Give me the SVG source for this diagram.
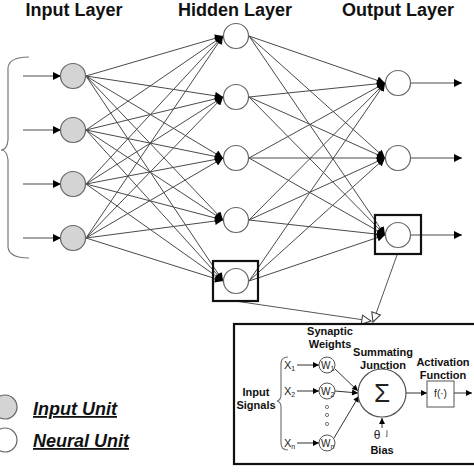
<svg xmlns="http://www.w3.org/2000/svg" width="474" height="474" viewBox="0 0 474 474">
<defs>
<marker id="ah" viewBox="0 0 10 10" refX="10" refY="5" markerWidth="9" markerHeight="8" markerUnits="userSpaceOnUse" orient="auto"><path d="M0,0 L10,5 L0,10 Z" fill="#000"/></marker>
<marker id="hh" viewBox="0 0 12 12" refX="11" refY="6" markerWidth="11" markerHeight="11" markerUnits="userSpaceOnUse" orient="auto"><path d="M1,1 L11,6 L1,11 Z" fill="#fff" stroke="#444" stroke-width="1.2"/></marker>
<marker id="sa" viewBox="0 0 10 10" refX="10" refY="5" markerWidth="7" markerHeight="6" markerUnits="userSpaceOnUse" orient="auto"><path d="M0,0 L10,5 L0,10 Z" fill="#000"/></marker>
</defs>
<style>
.e{stroke:#4a4a4a;stroke-width:1;fill:none;marker-end:url(#ah)}
.in{fill:#d4d4d4;stroke:#666;stroke-width:1.2}
.nu{fill:#fff;stroke:#666;stroke-width:1.2}
.t{font-family:"Liberation Sans",Arial,sans-serif;font-weight:bold;fill:#111}
.s{font-family:"Liberation Sans",Arial,sans-serif;fill:#222}
.box{fill:none;stroke:#111;stroke-width:2.2}
.ln{stroke:#333;stroke-width:1;fill:none}
.br{stroke:#777;stroke-width:1.2;fill:none}
</style>
<g id="titles">
<text class="t" x="74" y="16" font-size="18" text-anchor="middle">Input Layer</text>
<text class="t" x="235" y="16" font-size="18" text-anchor="middle">Hidden Layer</text>
<text class="t" x="398" y="16" font-size="18" text-anchor="middle">Output Layer</text>
</g>
<g id="braces">
<path class="br" d="M29,57 Q9,57 8,68 L8,140 Q7,150 1,150 Q7,150 8,160 L8,247 Q9,258 29,258"/>
</g>
<g id="connectors">
<line class="e" x1="23" y1="76" x2="61" y2="76"/>
<line class="e" x1="23" y1="130" x2="61" y2="130"/>
<line class="e" x1="23" y1="184" x2="61" y2="184"/>
<line class="e" x1="23" y1="238" x2="61" y2="238"/>
<g>
<line class="e" x1="86" y1="76" x2="223" y2="36"/><line class="e" x1="86" y1="76" x2="223" y2="97"/><line class="e" x1="86" y1="76" x2="223" y2="158"/><line class="e" x1="86" y1="76" x2="223" y2="220"/><line class="e" x1="86" y1="76" x2="223" y2="281"/>
<line class="e" x1="86" y1="130" x2="223" y2="36"/><line class="e" x1="86" y1="130" x2="223" y2="97"/><line class="e" x1="86" y1="130" x2="223" y2="158"/><line class="e" x1="86" y1="130" x2="223" y2="220"/><line class="e" x1="86" y1="130" x2="223" y2="281"/>
<line class="e" x1="86" y1="184" x2="223" y2="36"/><line class="e" x1="86" y1="184" x2="223" y2="97"/><line class="e" x1="86" y1="184" x2="223" y2="158"/><line class="e" x1="86" y1="184" x2="223" y2="220"/><line class="e" x1="86" y1="184" x2="223" y2="281"/>
<line class="e" x1="86" y1="238" x2="223" y2="36"/><line class="e" x1="86" y1="238" x2="223" y2="97"/><line class="e" x1="86" y1="238" x2="223" y2="158"/><line class="e" x1="86" y1="238" x2="223" y2="220"/><line class="e" x1="86" y1="238" x2="223" y2="281"/>
</g>
<g>
<line class="e" x1="249" y1="36" x2="385" y2="83"/><line class="e" x1="249" y1="36" x2="385" y2="158"/><line class="e" x1="249" y1="36" x2="385" y2="235"/>
<line class="e" x1="249" y1="97" x2="385" y2="83"/><line class="e" x1="249" y1="97" x2="385" y2="158"/><line class="e" x1="249" y1="97" x2="385" y2="235"/>
<line class="e" x1="249" y1="158" x2="385" y2="83"/><line class="e" x1="249" y1="158" x2="385" y2="158"/><line class="e" x1="249" y1="158" x2="385" y2="235"/>
<line class="e" x1="249" y1="220" x2="385" y2="83"/><line class="e" x1="249" y1="220" x2="385" y2="158"/><line class="e" x1="249" y1="220" x2="385" y2="235"/>
<line class="e" x1="249" y1="281" x2="385" y2="83"/><line class="e" x1="249" y1="281" x2="385" y2="158"/><line class="e" x1="249" y1="281" x2="385" y2="235"/>
</g>
<line class="e" x1="411" y1="83" x2="462" y2="83"/>
<line class="e" x1="411" y1="158" x2="462" y2="158"/>
<line class="e" x1="411" y1="235" x2="462" y2="235"/>
<line x1="235" y1="301" x2="371" y2="321" stroke="#555" stroke-width="1" marker-end="url(#hh)"/>
<line x1="397" y1="255" x2="373" y2="322" stroke="#555" stroke-width="1" marker-end="url(#hh)"/>
</g>
<g id="input-nodes">
<circle class="in" cx="73" cy="76" r="12.5"/>
<circle class="in" cx="73" cy="130" r="12.5"/>
<circle class="in" cx="73" cy="184" r="12.5"/>
<circle class="in" cx="73" cy="238" r="12.5"/>
</g>
<g id="hidden-nodes">
<circle class="nu" cx="236" cy="36" r="12.5"/>
<circle class="nu" cx="236" cy="97" r="12.5"/>
<circle class="nu" cx="236" cy="158" r="12.5"/>
<circle class="nu" cx="236" cy="220" r="12.5"/>
<circle class="nu" cx="236" cy="281" r="12.5"/>
<rect class="box" x="213" y="261" width="45" height="40"/>
</g>
<g id="output-nodes">
<circle class="nu" cx="398" cy="83" r="12.5"/>
<circle class="nu" cx="398" cy="158" r="12.5"/>
<circle class="nu" cx="398" cy="235" r="12.5"/>
<rect class="box" x="375" y="215" width="46" height="39"/>
</g>
<g id="legend">
<circle class="in" cx="5" cy="407" r="12"/>
<circle class="nu" cx="5" cy="440" r="12"/>
<text class="t" x="33" y="415" font-size="18" font-style="italic" text-decoration="underline">Input Unit</text>
<text class="t" x="33" y="447" font-size="18" font-style="italic" text-decoration="underline">Neural Unit</text>
</g>
<g id="neuron-detail">
<rect x="234" y="324" width="250" height="140" fill="#fff" stroke="#111" stroke-width="2.2"/>
<text class="t" x="330" y="335" font-size="11" text-anchor="middle">Synaptic</text>
<text class="t" x="330" y="348" font-size="11" text-anchor="middle">Weights</text>
<text class="t" x="383" y="356" font-size="11" text-anchor="middle">Summating</text>
<text class="t" x="383" y="369" font-size="11" text-anchor="middle">Junction</text>
<text class="t" x="443" y="366" font-size="11" text-anchor="middle">Activation</text>
<text class="t" x="443" y="379" font-size="11" text-anchor="middle">Function</text>
<text class="t" x="256" y="396" font-size="11" text-anchor="middle">Input</text>
<text class="t" x="256" y="409" font-size="11" text-anchor="middle">Signals</text>
<path class="br" d="M288,357 Q281,357 281,364 L281,395 Q281,400 277,401 Q281,402 281,407 L281,443 Q281,450 288,450" stroke="#444"/>
<text class="s" x="284" y="369" font-size="11">X<tspan font-size="7" dy="2">1</tspan></text>
<text class="s" x="284" y="395" font-size="11">X<tspan font-size="7" dy="2">2</tspan></text>
<text class="s" x="284" y="447" font-size="11">X<tspan font-size="7" dy="2">n</tspan></text>
<line class="ln" x1="297" y1="365" x2="319" y2="365" marker-end="url(#sa)"/>
<line class="ln" x1="297" y1="391" x2="319" y2="391" marker-end="url(#sa)"/>
<line class="ln" x1="297" y1="443" x2="319" y2="443" marker-end="url(#sa)"/>
<circle cx="327" cy="365" r="8" fill="#fff" stroke="#555"/>
<circle cx="327" cy="391" r="8" fill="#fff" stroke="#555"/>
<circle cx="327" cy="443" r="8" fill="#fff" stroke="#555"/>
<text class="s" x="321" y="369" font-size="10">W<tspan font-size="7" dy="2">1</tspan></text>
<text class="s" x="321" y="395" font-size="10">W<tspan font-size="7" dy="2">2</tspan></text>
<text class="s" x="321" y="447" font-size="10">W<tspan font-size="7" dy="2">n</tspan></text>
<circle cx="327" cy="407" r="1.6" fill="none" stroke="#555" stroke-width="0.8"/>
<circle cx="327" cy="415" r="1.6" fill="none" stroke="#555" stroke-width="0.8"/>
<circle cx="327" cy="424" r="1.6" fill="none" stroke="#555" stroke-width="0.8"/>
<line class="ln" x1="335" y1="369" x2="358" y2="391" marker-end="url(#sa)"/>
<line class="ln" x1="335" y1="391" x2="358" y2="393" marker-end="url(#sa)"/>
<line class="ln" x1="334" y1="438" x2="359" y2="396" marker-end="url(#sa)"/>
<circle cx="382" cy="393" r="24" fill="#fff" stroke="#555" stroke-width="1.2"/>
<text class="s" x="382" y="402" font-size="26" text-anchor="middle">Σ</text>
<line class="ln" x1="382" y1="428" x2="382" y2="418" marker-end="url(#sa)"/>
<text class="s" x="377" y="439" font-size="12" text-anchor="middle">θ</text>
<text class="s" x="386" y="435" font-size="8">j</text>
<text class="t" x="382" y="454" font-size="11" text-anchor="middle">Bias</text>
<line class="ln" x1="406" y1="393" x2="427" y2="393" marker-end="url(#sa)"/>
<rect x="427" y="381" width="27" height="26" fill="#fff" stroke="#555"/>
<text class="s" x="440.5" y="397" font-size="10" text-anchor="middle">f(·)</text>
<line class="ln" x1="454" y1="393" x2="472" y2="393" marker-end="url(#sa)"/>
</g>
</svg>
